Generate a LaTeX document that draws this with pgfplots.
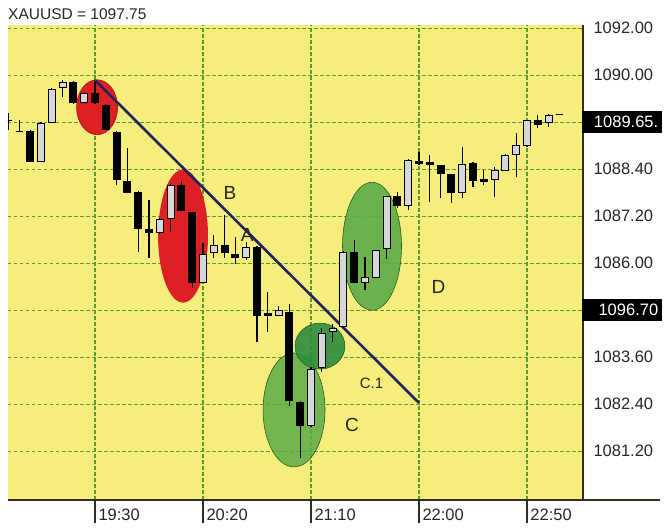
\documentclass[border=0pt]{standalone}
\usepackage{pgfplots}
\usepackage{pgfplotstable}
\pgfplotsset{compat=1.18}
\usepackage{fontspec}
\setmainfont{Liberation Sans}
\definecolor{bgyellow}{RGB}{246,238,124}
\definecolor{gridgreen}{RGB}{90,155,45}
\definecolor{candleup}{RGB}{215,215,215}
\definecolor{ellred}{RGB}{220,32,36}
\definecolor{ellredd}{RGB}{160,20,24}
\definecolor{ellgreen}{RGB}{92,172,72}
\definecolor{elldark}{RGB}{44,140,62}
\definecolor{ellgreend}{RGB}{40,95,30}
\definecolor{trend}{RGB}{35,35,100}
\definecolor{axiscol}{RGB}{50,45,35}

\pgfplotstableread{
x o h l c
-8 1089.63 1089.83 1089.40 1089.63
-7 1089.37 1089.65 1089.34 1089.37
-6 1089.37 1089.40 1088.58 1088.60
-5 1088.60 1089.60 1088.58 1089.57
-4 1089.60 1090.47 1089.57 1090.44
-3 1090.49 1090.67 1090.24 1090.62
-2 1090.62 1090.65 1090.06 1090.09
-1 1090.09 1090.37 1090.06 1090.34
0 1090.34 1090.62 1090.06 1090.09
1 1090.03 1090.06 1089.40 1089.40
2 1089.34 1089.37 1087.99 1088.14
3 1088.09 1088.94 1087.79 1087.81
4 1087.81 1087.84 1086.28 1086.89
5 1086.87 1087.61 1086.13 1086.77
6 1086.77 1087.15 1086.74 1087.12
7 1087.15 1088.02 1086.79 1087.99
8 1087.99 1088.07 1087.33 1087.35
9 1087.28 1087.30 1085.36 1085.51
10 1085.51 1086.51 1085.49 1086.23
11 1086.26 1086.72 1086.13 1086.46
12 1086.46 1087.23 1086.13 1086.26
13 1086.23 1086.66 1085.97 1086.13
14 1086.13 1086.54 1086.08 1086.41
15 1086.41 1086.43 1083.98 1084.67
16 1084.70 1085.26 1084.24 1084.65
17 1084.67 1084.90 1084.65 1084.80
18 1084.75 1084.95 1082.35 1082.48
19 1082.45 1082.48 1081.02 1081.86
20 1081.84 1083.34 1081.81 1083.29
21 1083.34 1084.34 1083.22 1084.19
22 1084.26 1084.44 1083.98 1084.34
23 1084.37 1086.31 1084.34 1086.28
24 1086.28 1086.59 1085.49 1085.51
25 1085.51 1086.15 1085.31 1085.64
26 1085.64 1086.33 1085.62 1086.31
27 1086.36 1087.71 1086.10 1087.69
28 1087.69 1087.81 1087.40 1087.48
29 1087.48 1088.66 1087.35 1088.63
30 1088.60 1088.83 1088.50 1088.55
31 1088.58 1088.76 1087.56 1088.53
32 1088.48 1088.50 1087.66 1088.30
33 1088.25 1088.27 1087.53 1087.79
34 1087.81 1088.96 1087.66 1088.53
35 1088.55 1088.58 1087.94 1088.12
36 1088.14 1088.37 1087.99 1088.09
37 1088.14 1088.45 1087.69 1088.37
38 1088.37 1088.78 1088.35 1088.76
39 1088.78 1089.32 1088.20 1088.99
40 1089.01 1089.63 1088.96 1089.63
41 1089.63 1089.78 1089.45 1089.55
42 1089.60 1089.80 1089.47 1089.78
43 1089.80 1089.80 1089.80 1089.80
}\candles

\begin{document}
\begin{tikzpicture}
\path[use as bounding box] (0,0) rectangle (666bp,531bp);
\begin{axis}[
  at={(8bp,31bp)}, anchor=south west,
  width=575bp, height=475bp, scale only axis,
  xmin=-8.06, xmax=45.19, ymin=1079.95, ymax=1092.08,
  axis background/.style={fill=bgyellow},
  axis x line*=bottom, axis y line*=right,
  axis line style={-, draw=axiscol, line width=1.4bp},
  xtick={0,10,20,30,40}, xticklabels={19:30,20:20,21:10,22:00,22:50},
  ytick={1081.2,1082.4,1083.6,1086.0,1087.2,1088.4,1090.8,1092.0},
  yticklabels={1081.20,1082.40,1083.60,1086.00,1087.20,1088.40,1090.00,1092.00},
  extra y ticks={1084.8,1089.6},
  extra y tick labels={1096.70,1089.65.},
  extra y tick style={grid=major, ytick style={draw=none},
    yticklabel style={fill=black, text=white, text width=72bp, align=right, inner xsep=4bp, inner ysep=5bp, xshift=-8bp}},
  grid=major,
  major grid style={gridgreen, line width=1.1bp, dash pattern=on 3.5bp off 2.5bp},
  tick align=outside, major tick length=23bp,
  xtick style={draw=axiscol, line width=1.3bp},
  ytick style={draw=none},
  tick label style={font=\fontsize{16.5bp}{19bp}\selectfont, text=black!85},
  xticklabel style={anchor=north west, yshift=18bp, xshift=0bp},
  yticklabel style={anchor=west, xshift=-16bp},
]
\coordinate (br) at (rel axis cs:1,0);
% annotation ellipses (radii in axis units)
\draw[ellredd, line width=0.6bp, fill=ellred] (axis cs:0.19,1089.98) ellipse [x radius=1.90, y radius=0.702];
\draw[draw=none, fill=ellred] (axis cs:8.15,1086.69) ellipse [x radius=2.31, y radius=1.70];
\draw[ellgreend, line width=0.6bp, fill=ellgreen, fill opacity=0.85] (axis cs:18.43,1082.25) ellipse [x radius=2.87, y radius=1.455];
\draw[ellgreend, line width=0.6bp, fill=elldark, fill opacity=0.9] (axis cs:20.83,1083.88) ellipse [x radius=2.31, y radius=0.587];
\draw[ellgreend, line width=0.6bp, fill=ellgreen, fill opacity=0.9] (axis cs:25.65,1086.43) ellipse [x radius=2.73, y radius=1.634];
% trend line
\addplot[trend, line width=2.6bp, mark=none] coordinates {(0,1090.67) (30,1082.43)};
% candles
\pgfplotstablegetrowsof{\candles}
\pgfmathtruncatemacro{\lastrow}{\pgfplotsretval-1}
\pgfplotsinvokeforeach{0,...,\lastrow}{%
  \pgfplotstablegetelem{#1}{x}\of\candles \edef\cx{\pgfplotsretval}%
  \pgfplotstablegetelem{#1}{o}\of\candles \edef\co{\pgfplotsretval}%
  \pgfplotstablegetelem{#1}{h}\of\candles \edef\ch{\pgfplotsretval}%
  \pgfplotstablegetelem{#1}{l}\of\candles \edef\cl{\pgfplotsretval}%
  \pgfplotstablegetelem{#1}{c}\of\candles \edef\cc{\pgfplotsretval}%
  \ifdim\cc pt<\co pt \def\fillc{black}\edef\lo{\cc}\edef\hi{\co}%
  \else \def\fillc{candleup}\edef\lo{\co}\edef\hi{\cc}\fi
  \pgfmathsetmacro{\xl}{\cx-0.32}%
  \pgfmathsetmacro{\xr}{\cx+0.32}%
  \edef\temp{\noexpand\addplot[black, line width=1.2bp, mark=none] coordinates {(\cx,\cl) (\cx,\ch)};%
    \noexpand\addplot[draw=black, line width=1bp, fill=\fillc, mark=none]
    coordinates {(\xl,\lo) (\xr,\lo) (\xr,\hi) (\xl,\hi)} -- cycle;}%
  \temp
}
% labels
\node[font=\fontsize{19bp}{21bp}\selectfont, text=black!85] at (axis cs:12.5,1087.79) {B};
\node[font=\fontsize{19bp}{21bp}\selectfont, text=black!85] at (axis cs:14.1,1086.72) {A};
\node[font=\fontsize{19bp}{21bp}\selectfont, text=black!85] at (axis cs:23.8,1081.86) {C};
\node[font=\fontsize{15bp}{17bp}\selectfont, text=black!85] at (axis cs:25.6,1082.94) {C.1};
\node[font=\fontsize{19bp}{21bp}\selectfont, text=black!85] at (axis cs:31.8,1085.39) {D};
\end{axis}
\draw[axiscol, line width=1.4bp] (br) -- ++(77bp,0);
\node[anchor=west, inner sep=0pt, font=\fontsize{15.5bp}{18bp}\selectfont, text=black!85] at (8bp,517bp) {XAUUSD = 1097.75};
\end{tikzpicture}
\end{document}
